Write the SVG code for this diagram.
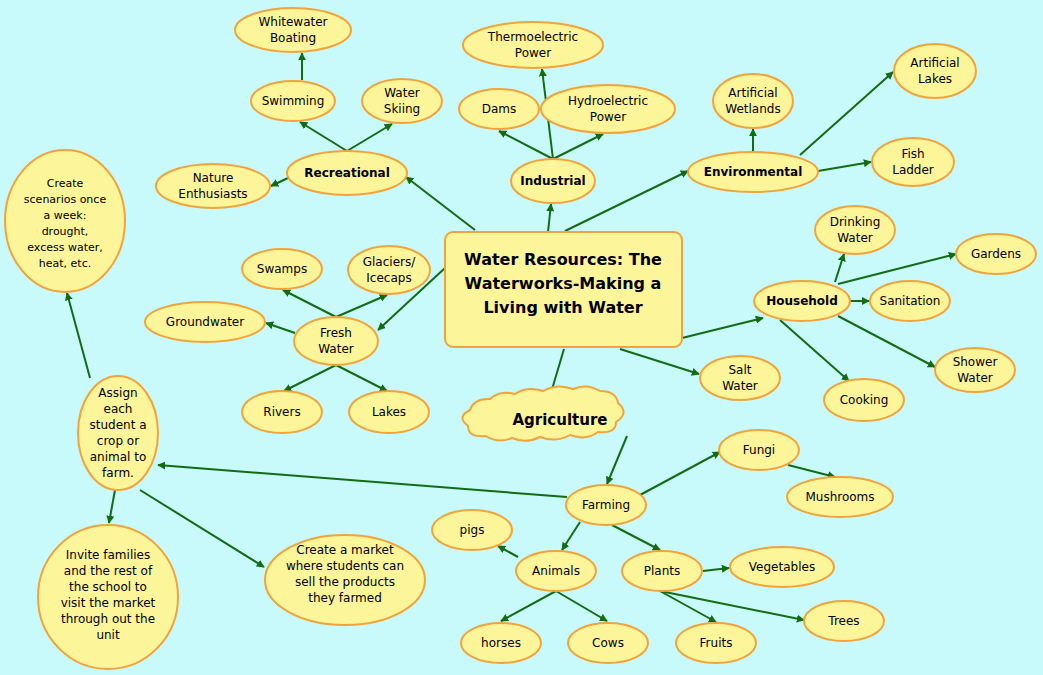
<svg xmlns="http://www.w3.org/2000/svg" width="1043" height="675" viewBox="0 0 1043 675">
<defs>
<marker id="ah" viewBox="0 0 10 10" refX="9" refY="5" markerWidth="8" markerHeight="8" orient="auto" markerUnits="userSpaceOnUse"><path d="M0,0 L10,5 L0,10 z" fill="#136b13"/></marker>
<style>
.n ellipse,.n rect,.n path{fill:#fdf59a;stroke:#f2a33a;stroke-width:2}
text{font-family:"DejaVu Sans","Liberation Sans",sans-serif;font-size:12px;fill:#000;text-anchor:middle}
.b{font-weight:bold}
.s{font-size:11px}
#edges line{stroke:#136b13;stroke-width:2;marker-end:url(#ah)}
</style>
</defs>
<rect width="1043" height="675" fill="#c8f9fb"/>
<g id="edges">
<line x1="475" y1="230" x2="406" y2="177"/>
<line x1="347" y1="151" x2="300" y2="122"/>
<line x1="347" y1="151" x2="392" y2="124"/>
<line x1="302" y1="80" x2="302" y2="53"/>
<line x1="288" y1="178" x2="271" y2="186"/>
<line x1="548" y1="232" x2="551" y2="204"/>
<line x1="553" y1="159" x2="499" y2="131"/>
<line x1="553" y1="159" x2="542" y2="69"/>
<line x1="553" y1="159" x2="603" y2="134"/>
<line x1="565" y1="231" x2="688" y2="171"/>
<line x1="753" y1="151" x2="753" y2="129"/>
<line x1="800" y1="155" x2="893" y2="72"/>
<line x1="818" y1="171" x2="871" y2="162"/>
<line x1="682" y1="338" x2="763" y2="318"/>
<line x1="835" y1="282" x2="844" y2="254"/>
<line x1="838" y1="284" x2="956" y2="254"/>
<line x1="850" y1="301" x2="869" y2="301"/>
<line x1="838" y1="316" x2="935" y2="367"/>
<line x1="780" y1="320" x2="849" y2="381"/>
<line x1="620" y1="349" x2="699" y2="374"/>
<line x1="564" y1="349" x2="550" y2="396"/>
<line x1="445" y1="268" x2="378" y2="330"/>
<line x1="336" y1="317" x2="283" y2="290"/>
<line x1="336" y1="317" x2="387" y2="295"/>
<line x1="295" y1="333" x2="266" y2="323"/>
<line x1="336" y1="365" x2="284" y2="391"/>
<line x1="336" y1="365" x2="387" y2="391"/>
<line x1="627" y1="436" x2="607" y2="484"/>
<line x1="640" y1="495" x2="720" y2="452"/>
<line x1="788" y1="465" x2="835" y2="477"/>
<line x1="567" y1="497" x2="158" y2="465"/>
<line x1="580" y1="522" x2="562" y2="550"/>
<line x1="518" y1="557" x2="498" y2="546"/>
<line x1="612" y1="525" x2="660" y2="550"/>
<line x1="703" y1="571" x2="729" y2="568"/>
<line x1="556" y1="591" x2="501" y2="621"/>
<line x1="556" y1="591" x2="607" y2="621"/>
<line x1="660" y1="591" x2="716" y2="622"/>
<line x1="660" y1="591" x2="804" y2="620"/>
<line x1="90" y1="378" x2="67" y2="293"/>
<line x1="115" y1="490" x2="109" y2="523"/>
<line x1="140" y1="490" x2="264" y2="567"/>
</g>
<g id="main" class="n"><rect x="445" y="232" width="237" height="115" rx="8"/><text class="b" style="font-size:16px"><tspan x="563" y="265">Water Resources: The</tspan><tspan x="563" y="289">Waterworks-Making a</tspan><tspan x="563" y="313">Living with Water</tspan></text></g>
<g id="whitewater" class="n"><ellipse cx="293" cy="30" rx="58" ry="22"/><text><tspan x="293" y="26">Whitewater</tspan><tspan x="293" y="42">Boating</tspan></text></g>
<g id="swimming" class="n"><ellipse cx="293" cy="101" rx="42" ry="20"/><text x="293" y="105">Swimming</text></g>
<g id="waterskiing" class="n"><ellipse cx="402" cy="101" rx="40" ry="22"/><text><tspan x="402" y="97">Water</tspan><tspan x="402" y="113">Skiing</tspan></text></g>
<g id="recreational" class="n"><ellipse cx="347" cy="173" rx="60" ry="22"/><text class="b" x="347" y="177">Recreational</text></g>
<g id="nature" class="n"><ellipse cx="213" cy="186" rx="57" ry="22"/><text><tspan x="213" y="182">Nature</tspan><tspan x="213" y="198">Enthusiasts</tspan></text></g>
<g id="thermo" class="n"><ellipse cx="533" cy="45" rx="70" ry="23"/><text><tspan x="533" y="41">Thermoelectric</tspan><tspan x="533" y="57">Power</tspan></text></g>
<g id="dams" class="n"><ellipse cx="499" cy="109" rx="40" ry="20"/><text x="499" y="113">Dams</text></g>
<g id="hydro" class="n"><ellipse cx="608" cy="109" rx="67" ry="24"/><text><tspan x="608" y="105">Hydroelectric</tspan><tspan x="608" y="121">Power</tspan></text></g>
<g id="industrial" class="n"><ellipse cx="553" cy="181" rx="42" ry="22"/><text class="b" x="553" y="185">Industrial</text></g>
<g id="wetlands" class="n"><ellipse cx="753" cy="101" rx="40" ry="27"/><text><tspan x="753" y="97">Artificial</tspan><tspan x="753" y="113">Wetlands</tspan></text></g>
<g id="artlakes" class="n"><ellipse cx="935" cy="71" rx="41" ry="27"/><text><tspan x="935" y="67">Artificial</tspan><tspan x="935" y="83">Lakes</tspan></text></g>
<g id="environmental" class="n"><ellipse cx="753" cy="172" rx="65" ry="20"/><text class="b" x="753" y="176">Environmental</text></g>
<g id="fish" class="n"><ellipse cx="913" cy="162" rx="41" ry="24"/><text><tspan x="913" y="158">Fish</tspan><tspan x="913" y="174">Ladder</tspan></text></g>
<g id="drinking" class="n"><ellipse cx="855" cy="230" rx="40" ry="24"/><text><tspan x="855" y="226">Drinking</tspan><tspan x="855" y="242">Water</tspan></text></g>
<g id="gardens" class="n"><ellipse cx="996" cy="254" rx="40" ry="20"/><text x="996" y="258">Gardens</text></g>
<g id="household" class="n"><ellipse cx="802" cy="301" rx="48" ry="20"/><text class="b" x="802" y="305">Household</text></g>
<g id="sanitation" class="n"><ellipse cx="910" cy="301" rx="40" ry="20"/><text x="910" y="305">Sanitation</text></g>
<g id="shower" class="n"><ellipse cx="975" cy="370" rx="40" ry="22"/><text><tspan x="975" y="366">Shower</tspan><tspan x="975" y="382">Water</tspan></text></g>
<g id="cooking" class="n"><ellipse cx="864" cy="400" rx="40" ry="21"/><text x="864" y="404">Cooking</text></g>
<g id="salt" class="n"><ellipse cx="740" cy="378" rx="40" ry="22"/><text><tspan x="740" y="374">Salt</tspan><tspan x="740" y="390">Water</tspan></text></g>
<g id="swamps" class="n"><ellipse cx="282" cy="269" rx="40" ry="20"/><text x="282" y="273">Swamps</text></g>
<g id="glaciers" class="n"><ellipse cx="389" cy="270" rx="41" ry="24"/><text><tspan x="389" y="266">Glaciers/</tspan><tspan x="389" y="282">Icecaps</tspan></text></g>
<g id="groundwater" class="n"><ellipse cx="205" cy="322" rx="60" ry="20"/><text x="205" y="326">Groundwater</text></g>
<g id="fresh" class="n"><ellipse cx="336" cy="341" rx="42" ry="24"/><text><tspan x="336" y="337">Fresh</tspan><tspan x="336" y="353">Water</tspan></text></g>
<g id="rivers" class="n"><ellipse cx="282" cy="412" rx="40" ry="21"/><text x="282" y="416">Rivers</text></g>
<g id="lakes" class="n"><ellipse cx="389" cy="412" rx="40" ry="21"/><text x="389" y="416">Lakes</text></g>
<g id="agriculture" class="n"><path d="M470,410 q4,-12 20,-11 q10,-9 25,-5 q12,-8 28,-3 q14,-8 30,-2 q14,-6 27,2 q16,0 18,12 q12,10 -2,19 q0,12 -18,10 q-12,9 -28,3 q-14,8 -30,2 q-14,7 -28,1 q-14,6 -26,-2 q-18,2 -18,-10 q-12,-9 2,-16 z"/><text class="b" x="560" y="425" style="font-size:15px">Agriculture</text></g>
<g id="fungi" class="n"><ellipse cx="759" cy="450" rx="40" ry="20"/><text x="759" y="454">Fungi</text></g>
<g id="mushrooms" class="n"><ellipse cx="840" cy="497" rx="53" ry="20"/><text x="840" y="501">Mushrooms</text></g>
<g id="farming" class="n"><ellipse cx="606" cy="505" rx="40" ry="20"/><text x="606" y="509">Farming</text></g>
<g id="pigs" class="n"><ellipse cx="472" cy="530" rx="40" ry="20"/><text x="472" y="534">pigs</text></g>
<g id="animals" class="n"><ellipse cx="556" cy="571" rx="40" ry="20"/><text x="556" y="575">Animals</text></g>
<g id="plants" class="n"><ellipse cx="662" cy="571" rx="40" ry="20"/><text x="662" y="575">Plants</text></g>
<g id="vegetables" class="n"><ellipse cx="782" cy="567" rx="52" ry="20"/><text x="782" y="571">Vegetables</text></g>
<g id="horses" class="n"><ellipse cx="501" cy="643" rx="40" ry="20"/><text x="501" y="647">horses</text></g>
<g id="cows" class="n"><ellipse cx="608" cy="643" rx="40" ry="20"/><text x="608" y="647">Cows</text></g>
<g id="fruits" class="n"><ellipse cx="716" cy="643" rx="40" ry="20"/><text x="716" y="647">Fruits</text></g>
<g id="trees" class="n"><ellipse cx="844" cy="621" rx="40" ry="20"/><text x="844" y="625">Trees</text></g>
<g id="scenarios" class="n"><ellipse cx="65" cy="221" rx="60" ry="71"/><text class="s"><tspan x="65" y="187">Create</tspan><tspan x="65" y="203">scenarios once</tspan><tspan x="65" y="219">a week:</tspan><tspan x="65" y="235">drought,</tspan><tspan x="65" y="251">excess water,</tspan><tspan x="65" y="267">heat, etc.</tspan></text></g>
<g id="assign" class="n"><ellipse cx="118" cy="433" rx="40" ry="57"/><text><tspan x="118" y="397">Assign</tspan><tspan x="118" y="413">each</tspan><tspan x="118" y="429">student a</tspan><tspan x="118" y="445">crop or</tspan><tspan x="118" y="461">animal to</tspan><tspan x="118" y="477">farm.</tspan></text></g>
<g id="invite" class="n"><ellipse cx="108" cy="597" rx="70" ry="72"/><text><tspan x="108" y="559">Invite families</tspan><tspan x="108" y="575">and the rest of</tspan><tspan x="108" y="591">the school to</tspan><tspan x="108" y="607">visit the market</tspan><tspan x="108" y="623">through out the</tspan><tspan x="108" y="639">unit</tspan></text></g>
<g id="market" class="n"><ellipse cx="345" cy="580" rx="80" ry="45"/><text><tspan x="345" y="554">Create a market</tspan><tspan x="345" y="570">where students can</tspan><tspan x="345" y="586">sell the products</tspan><tspan x="345" y="602">they farmed</tspan></text></g>
</svg>
